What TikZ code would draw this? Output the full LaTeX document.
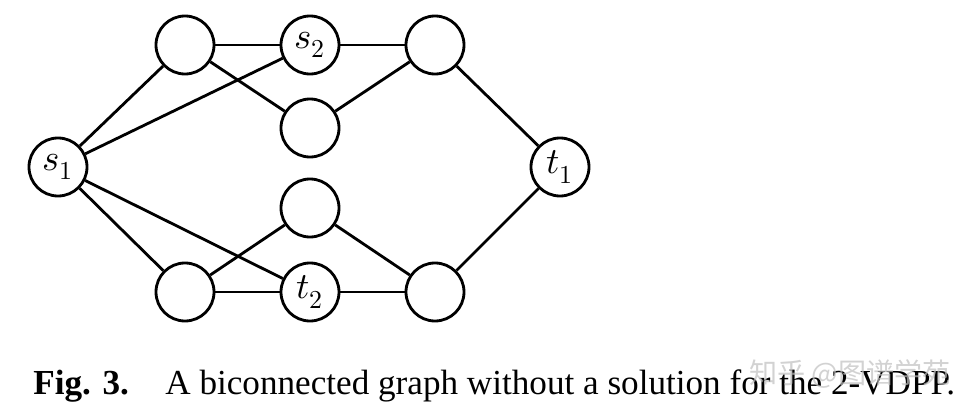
\documentclass[tikz,border=0pt]{standalone}
\usepackage{fontspec}
\setmainfont{Liberation Serif}
\newfontfamily\cjkfont{Noto Sans CJK SC}
\usepackage{unicode-math}
\setmathfont{Latin Modern Math}
\tikzset{
  vtx/.style={draw, circle, line width=1.6pt, minimum size=1.16cm, inner sep=0pt,
    font=\fontsize{21}{24}\selectfont},
  edge/.style={line width=1.6pt}
}
\begin{document}
\begin{tikzpicture}
\useasboundingbox (0,0) rectangle (19.5,8.28);
% Vertices
\node[vtx] (s1) at (1.16,4.94) {$s_1$};
\node[vtx] (a) at (3.70,7.38) {};   % top left
\node[vtx] (s2) at (6.20,7.38) {$s_2$};
\node[vtx] (b) at (8.70,7.38) {};   % top right
\node[vtx] (c) at (6.20,5.72) {};   % middle upper
\node[vtx] (d) at (6.20,4.12) {};   % middle lower
\node[vtx] (e) at (3.70,2.44) {};   % bottom left
\node[vtx] (t2) at (6.20,2.44) {$t_2$};
\node[vtx] (f) at (8.70,2.44) {};   % bottom right
\node[vtx] (t1) at (11.20,4.94) {$t_1$};

% Edges
\draw[edge] (s1) -- (a);
\draw[edge] (s1) -- (s2);
\draw[edge] (s1) -- (e);
\draw[edge] (s1) -- (t2);
\draw[edge] (a) -- (s2);
\draw[edge] (a) -- (c);
\draw[edge] (s2) -- (b);
\draw[edge] (c) -- (b);
\draw[edge] (b) -- (t1);
\draw[edge] (e) -- (d);
\draw[edge] (d) -- (f);
\draw[edge] (e) -- (t2);
\draw[edge] (t2) -- (f);
\draw[edge] (f) -- (t1);

% Caption
\node[anchor=base west, inner sep=0pt, font=\fontsize{20}{23}\selectfont\bfseries] (fig) at (0.66,0.38) {Fig. 3.};
\node[anchor=base west, inner sep=0pt, font=\fontsize{20}{23}\selectfont] (cap) at (3.30,0.38)
  {A biconnected graph without a solution for the 2-VDPP.};
\node[inner sep=0pt, text=gray!50, opacity=0.7, font=\fontsize{16}{19}\selectfont\cjkfont] (wm) at (17.0,0.80)
  {知乎 @图谱学苑};
\end{tikzpicture}
\end{document}
